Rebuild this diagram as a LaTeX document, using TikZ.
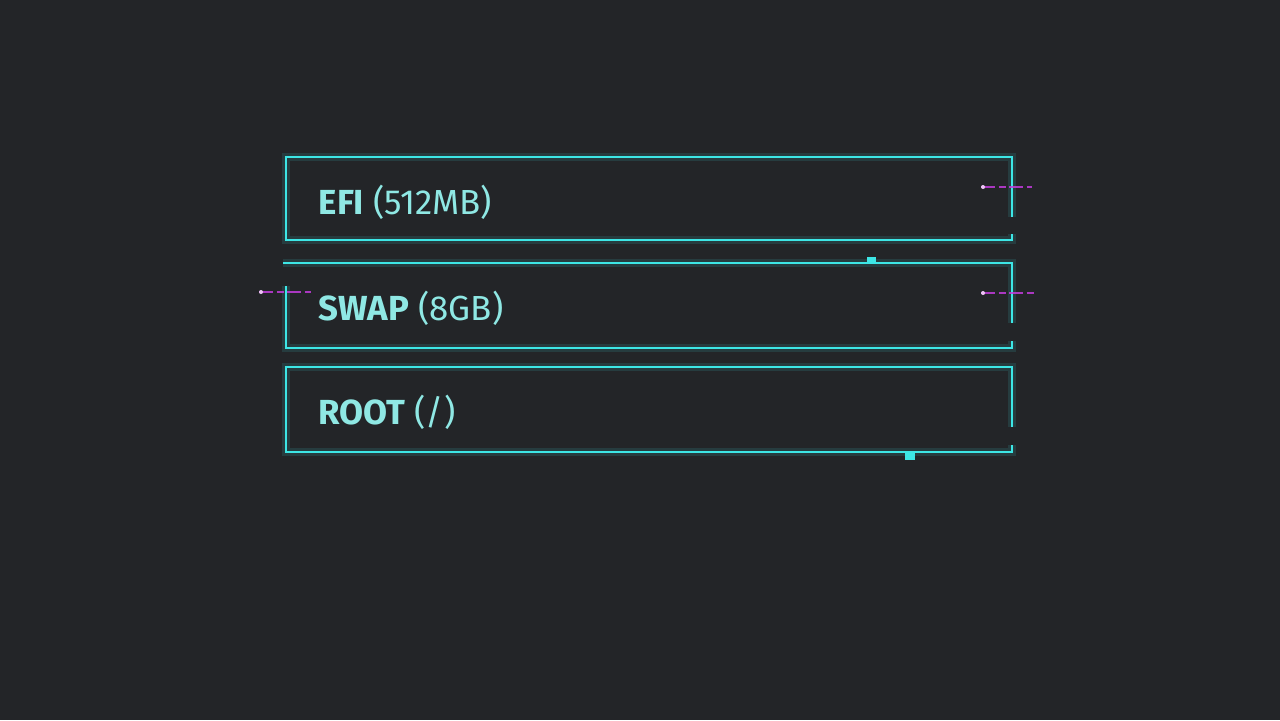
\documentclass[tikz,border=0pt]{standalone}
\usepackage{fontspec}
\setsansfont{Fira Sans}
\definecolor{bg}{HTML}{232528}
\definecolor{neon}{HTML}{3DE6E6}
\definecolor{pale}{HTML}{8FE8E4}
\definecolor{glitchcol}{HTML}{C23CDC}
\begin{document}
\begin{tikzpicture}[
    x = 0.01cm, y = -0.01cm,
    edge/.style = {draw = neon, line width = 0.8pt},
    glow/.style = {draw = neon, line width = 2.2pt, opacity = 0.12},
    partlabel/.style = {anchor = base west, inner sep = 0pt, text = pale,
                        font = \sffamily\fontsize{9.9}{12}\selectfont},
    glitch/.style = {draw = glitchcol, line width = 0.7pt, opacity = 0.85,
                     dash pattern = on 4pt off 1pt on 2pt off 1pt}
  ]
  % background
  \fill[bg] (0,0) rectangle (1280,720);
  % the EFI partition
  \foreach \s in {glow, edge}
    \draw[\s] (1012,217) -- (1012,157) -- (286,157) -- (286,240) -- (1012,240) -- (1012,234);
  % the SWAP partition
  \foreach \s in {glow, edge} {
    \draw[\s] (283,263) -- (1012,263) -- (1012,323);
    \draw[\s] (286,286) -- (286,348) -- (1012,348) -- (1012,341);
  }
  % the ROOT partition
  \foreach \s in {glow, edge}
    \draw[\s] (1012,427) -- (1012,367) -- (286,367) -- (286,452) -- (1012,452) -- (1012,445);
  % small bumps on the edges
  \fill[neon] (867,257) rectangle (876,264);
  \fill[neon] (905,452) rectangle (915,460);
  % labels
  \node[partlabel] (efi)  at (318,214) {\textbf{EFI} (512MB)};
  \node[partlabel] (swap) at (318,320) {\textbf{SWAP} (8GB)};
  \node[partlabel] (root) at (318,424) {\textbf{ROOT} (/)};
  % glitch streaks
  \draw[glitch] (981,187) -- (1032,187);
  \draw[glitch] (259,292) -- (311,292);
  \draw[glitch] (981,293) -- (1035,293);
  \fill[white!70!glitchcol] (983,187) circle (2);
  \fill[white!70!glitchcol] (261,292) circle (2);
  \fill[white!70!glitchcol] (983,293) circle (2);
\end{tikzpicture}
\end{document}
